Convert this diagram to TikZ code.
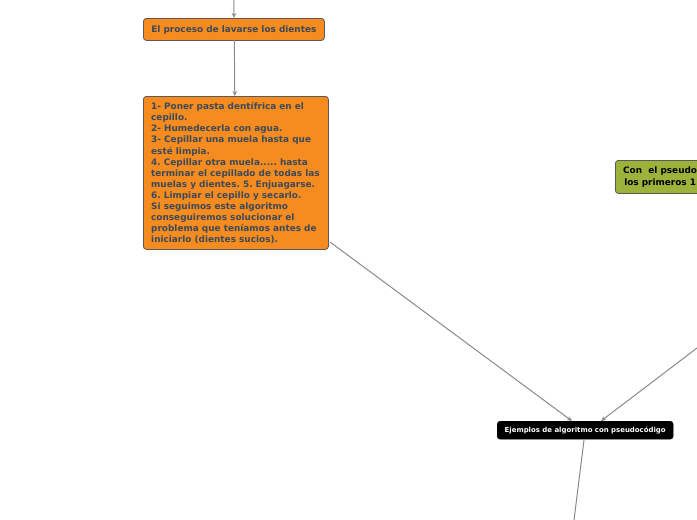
\documentclass[tikz,border=0pt]{standalone}
\usepackage{fontspec}
\setmainfont{DejaVu Sans}
\usetikzlibrary{arrows.meta}
\frenchspacing
\definecolor{orangebox}{HTML}{F68B1F}
\definecolor{greenbox}{HTML}{9BB33A}
\definecolor{boxborder}{HTML}{5A5A5A}
\definecolor{boxtext}{HTML}{3B4A5A}
\definecolor{linkgray}{HTML}{8A8A8A}
\tikzset{
  topicbox/.style={draw=boxborder, line width=0.8pt, rounded corners=3pt, anchor=north west, inner sep=0pt, font=\bfseries\fontsize{8.9}{11.1}\selectfont},
  orangetopic/.style={topicbox, fill=orangebox, text=boxtext},
  link/.style={draw=linkgray, line width=1pt, -{Stealth[length=5pt,width=4.5pt]}},
  plainlink/.style={draw=linkgray, line width=1pt}
}
\begin{document}
\begin{tikzpicture}[x=1pt,y=-1pt]
\useasboundingbox (0,0) rectangle (697,520);
\fill[white] (0,0) rectangle (697,520);

\node[orangetopic, minimum width=181pt, minimum height=22pt, text depth=0pt, text height=6.6pt] (a) at (143,18) {El proceso de lavarse los dientes};

\node[orangetopic, minimum width=185pt, minimum height=153pt] (b) at (143,96) {};
\node[anchor=north west, inner sep=0pt, align=left, text=boxtext, font=\bfseries\fontsize{8.9}{11.1}\selectfont] (btext) at (151,102.3) {1- Poner pasta dentífrica en el\\
cepillo.\\
2- Humedecerla con agua.\\
3- Cepillar una muela hasta que\\
esté limpia.\\
4. Cepillar otra muela..... hasta\\
terminar el cepillado de todas las\\
muelas y dientes. 5. Enjuagarse.\\
6. Limpiar el cepillo y secarlo.\\
Si seguimos este algoritmo\\
conseguiremos solucionar el\\
problema que teníamos antes de\\
iniciarlo (dientes sucios).};

\node[topicbox, fill=greenbox, minimum width=140pt, minimum height=33pt] (c) at (615,160) {};
\node[anchor=north west, inner sep=0pt, align=center, text=black, font=\bfseries\fontsize{8.9}{12}\selectfont] (ctext) at (623,167) {Con\ \ el pseudo\\los primeros 1};

\node[draw=black, fill=black, text=white, rounded corners=3pt, anchor=north west, inner sep=0pt, minimum width=176pt, minimum height=18pt, font=\bfseries\fontsize{6.95}{8}\selectfont] (d) at (497,421) {Ejemplos de algoritmo con pseudocódigo};

\coordinate (topin) at (234,0);
\coordinate (rightin) at (697,348);
\coordinate (bottomout) at (574,520);

\draw[link] (topin) -- (a.north);
\draw[link] (234.3,40) -- (234.8,96);
\draw[link] (330,242) -- (572,421);
\draw[link] (rightin) -- (601,421);
\draw[plainlink] (584,440) -- (bottomout);
\end{tikzpicture}
\end{document}
